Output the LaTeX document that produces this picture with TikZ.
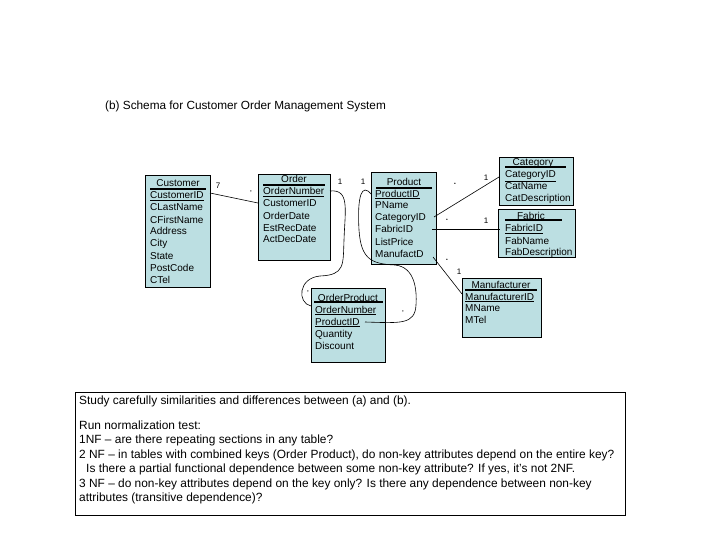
\documentclass[tikz,border=0pt]{standalone}
\usepackage{fontspec}
\setmainfont{Liberation Sans}
\definecolor{tbl}{HTML}{BCDFE2}
\begin{document}
\begin{tikzpicture}[x=1pt,y=-1pt,
 tbox/.style={draw=black,fill=tbl,line width=0.6pt},
 fld/.style={anchor=base west,inner sep=0pt,text height=7pt,text depth=2pt,font=\fontsize{10}{10}\selectfont},
 hd/.style={anchor=base,inner sep=0pt,text height=7pt,text depth=2pt,font=\fontsize{10}{10}\selectfont},
 hl/.style={line width=1.3pt},
 lab/.style={inner sep=0pt,font=\fontsize{8}{8}\selectfont},
 dot/.style={inner sep=0pt,font=\fontsize{5}{5}\selectfont},
 con/.style={line width=0.6pt}]
\useasboundingbox (0,0) rectangle (720,540);
\node[anchor=base west,inner sep=0pt,font=\fontsize{11.8}{12}\selectfont] (title) at (105,110) {(b) Schema for Customer Order Management System};
% Customer
\draw[tbox] (145,175) rectangle (210,287);
\node[hd] (cust) at (178,187) {Customer};
\draw[hl] (150,189) -- (206,189);
\node[fld] (custid) at (150,199) {\underline{CustomerID}};
\node[fld] (c1) at (150,211) {CLastName};
\node[fld] (c2) at (150,223) {CFirstName};
\node[fld] (c3) at (150,235) {Address};
\node[fld] (c4) at (150,247) {City};
\node[fld] (c5) at (150,259) {State};
\node[fld] (c6) at (150,271) {PostCode};
\node[fld] (c7) at (150,283) {CTel};
% Order
\draw[tbox] (258,174) rectangle (330,260);
\node[hd] (ord) at (294,183) {Order};
\draw[hl] (263,185) -- (325,185);
\node[fld] (ordnum) at (263,195) {\underline{OrderNumber}};
\node[fld] (ordcust) at (263,207) {CustomerID};
\node[fld] (o2) at (263,219) {OrderDate};
\node[fld] (o3) at (263,231) {EstRecDate};
\node[fld] (o4) at (263,243) {ActDecDate};
% Product
\draw[tbox] (371,172) rectangle (436,264);
\node[hd] (prod) at (404,186) {Product};
\draw[hl] (376,188) -- (432,188);
\node[fld] (prodid) at (375,197) {\underline{ProductID}};
\node[fld] (p1) at (375,209) {PName};
\node[fld] (pcat) at (375,221) {CategoryID};
\node[fld] (pfab) at (375,233) {FabricID};
\node[fld] (p4) at (375,245) {ListPrice};
\node[fld] (pman) at (375,257) {ManufactD};
% OrderProduct
\draw[tbox] (311,288) rectangle (385,362);
\node[hd] (op) at (348,301) {OrderProduct};
\draw[hl] (314,302) -- (383,302);
\node[fld] (opnum) at (315,313) {\underline{OrderNumber}};
\node[fld] (opprod) at (315,325) {\underline{ProductID}};
\node[fld] (op2) at (315,337) {Quantity};
\node[fld] (op3) at (315,349) {Discount};
% Category
\draw[tbox] (499,157) rectangle (573,205);
\node[hd] (cat) at (533,166) {Category};
\draw[hl] (505,167) -- (566,167);
\node[fld] (catid) at (505,178) {\underline{CategoryID}};
\node[fld] (k1) at (505,190) {CatName};
\node[fld] (k2) at (505,202) {CatDescription};
% Fabric
\draw[tbox] (498,209) rectangle (575,257);
\node[hd] (fab) at (531,219) {Fabric};
\draw[hl] (505,220) -- (562,220);
\node[fld] (fabid) at (505,232) {\underline{FabricID}};
\node[fld] (f1) at (505,244) {FabName};
\node[fld] (f2) at (505,255) {FabDescription};
% Manufacturer
\draw[tbox] (462,278) rectangle (541,337);
\node[hd] (man) at (501,288) {Manufacturer};
\draw[hl] (465,290) -- (537,290);
\node[fld] (manid) at (465,300) {\underline{ManufacturerID}};
\node[fld] (m1) at (465,311) {MName};
\node[fld] (m2) at (465,323) {MTel};
% connectors
\coordinate (a1) at (210,193); \coordinate (a2) at (258,203);
\draw[con] (a1) -- (a2);
\node[lab] (l1) at (218,186) {7};
\node[lab] (l2) at (251,192) {,};
\coordinate (b1) at (330,191); \coordinate (b2) at (311,306);
\draw[con] (b1) .. controls (350,189) and (345,210) .. (344,240)
  .. controls (343,265) and (345,275) .. (320,276)
  .. controls (298,278) and (297,303) .. (b2);
\node[lab] (l3) at (340,182) {1};
\node[lab] (l4) at (308,292) {,};
\coordinate (d1) at (371,194); \coordinate (d2) at (365,322);
\draw[con] (d1) .. controls (362,183) and (357,195) .. (359,230)
  .. controls (361,258) and (370,264) .. (395,265)
  .. controls (415,267) and (417,290) .. (416,305)
  .. controls (415,325) and (400,323) .. (d2);
\node[lab] (l5) at (363,182) {1};
\node[lab] (l6) at (403,312) {,};
\coordinate (e1) at (434,217); \coordinate (e2) at (499,177);
\draw[con] (e1) -- (e2);
\node[lab] (l7) at (486,178) {1};
\node[dot] (l8) at (455,184) {\textbullet};
\coordinate (g1) at (432,229); \coordinate (g2) at (500,229);
\draw[con] (g1) -- (g2);
\node[lab] (l9) at (486,221) {1};
\node[dot] (l10) at (447,220) {\textbullet};
\coordinate (h1) at (433,257); \coordinate (h2) at (462,294);
\draw[con] (h1) -- (h2);
\node[lab] (l11) at (459,272) {1};
\node[dot] (l12) at (447,260) {\textbullet};
% text box
\draw[line width=0.6pt] (75,392) rectangle (625,515);
\node[anchor=north west,inner sep=0pt,align=left,font=\fontsize{11.9}{14.5}\selectfont] (txt) at (79,396)
{Study carefully similarities and differences between (a) and (b).\\[10pt]
Run normalization test:\\
1NF -- are there repeating sections in any table?\\
2 NF -- in tables with combined keys (Order Product), do non-key attributes depend on the entire key?\\
\hspace{7pt}Is there a partial functional dependence between some non-key attribute? If yes, it's not 2NF.\\
3 NF -- do non-key attributes depend on the key only? Is there any dependence between non-key\\
attributes (transitive dependence)?};
\end{tikzpicture}
\end{document}
